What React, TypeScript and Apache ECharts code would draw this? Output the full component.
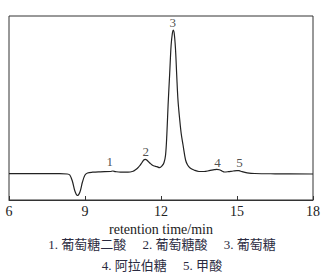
import React, { useEffect, useRef } from "react";
import * as echarts from "echarts";

const times = [
  6.0, 7.0, 8.0, 8.3, 8.4, 8.5, 8.6, 8.7, 8.8, 8.9, 9.0, 9.1, 9.3, 9.6, 10.0, 10.1, 10.2, 10.4, 10.7,
  10.9, 10.98, 11.08, 11.15, 11.25, 11.32, 11.38, 11.45, 11.57, 11.7, 11.84, 11.94, 12.05, 12.12,
  12.18, 12.23, 12.28, 12.34, 12.4, 12.45, 12.48, 12.52, 12.57, 12.62, 12.67, 12.74, 12.8, 12.87,
  12.97, 13.05, 13.15, 13.3, 13.5, 13.7, 13.9, 14.1, 14.2, 14.3, 14.42, 14.5, 14.65, 14.85, 15.0,
  15.08, 15.2, 15.4, 15.7, 16.5, 18.0,
];
const signal = [
  26.3, 26.3, 26.3, 26.0, 25.0, 19, 9, 4.5, 8, 18, 25, 27, 27.8, 28.2, 28.5, 29.0, 28.4, 27.8, 27.8,
  28.8, 30, 32, 34, 37.5, 40, 40.7, 39.8, 36.7, 34.2, 33.3, 32.4, 34.5, 37.5,
  45, 65, 95, 125, 155, 167, 170, 167, 152, 125, 100, 80, 66, 55,
  40, 35, 32, 30, 28.5, 28.5, 29.3, 30.3, 30.7, 30.3, 28.8, 28.0, 28.3, 29.0, 29.4,
  29.3, 28.3, 27.2, 26.5, 26.2, 26.0,
];

const peakNames = ["1", "2", "3", "4", "5"];
const peakTimes = [10.0, 11.42, 12.48, 14.25, 15.12];
const peakLabelY = [38, 48.5, 177, 37.3, 37.3];

const xTicks = { min: 6, max: 18, interval: 3 };
const axisName = "retention time/min";
const legendLine1 = "1. 葡萄糖二酸　 2. 葡萄糖酸　 3. 葡萄糖";
const legendLine2 = "4. 阿拉伯糖　 5. 甲酸";

export default function App() {
  const ref = useRef<HTMLDivElement>(null);
  useEffect(() => {
    if (!ref.current) return;
    const chart = echarts.init(ref.current, null, { renderer: "svg" });
    const serif = "'Liberation Serif', 'DejaVu Serif', serif";
    const cjk = "'Liberation Serif', 'Noto Sans CJK SC', serif";
    chart.setOption({
      animation: false,
      grid: {
        left: 9,
        right: 11,
        top: 16,
        bottom: 78,
        show: true,
        borderColor: "#333",
        borderWidth: 1,
      },
      xAxis: {
        type: "value",
        min: xTicks.min,
        max: xTicks.max,
        interval: xTicks.interval,
        name: axisName,
        nameLocation: "middle",
        nameGap: 13,
        nameTextStyle: { fontFamily: serif, fontSize: 14, color: "#222" },
        axisLine: { show: true, lineStyle: { color: "#333", width: 1 } },
        axisTick: { show: true, inside: true, length: 4, lineStyle: { color: "#333" } },
        axisLabel: { fontFamily: serif, fontSize: 14, color: "#222", margin: 4 },
        splitLine: { show: false },
      },
      yAxis: {
        type: "value",
        min: 0,
        max: 184,
        axisLine: { show: false },
        axisTick: { show: false },
        axisLabel: { show: false },
        splitLine: { show: false },
      },
      series: [
        {
          type: "line",
          data: times.map((t, i) => [t, signal[i]]),
          showSymbol: false,
          smooth: 0.35,
          lineStyle: { color: "#222", width: 1.2 },
        },
        {
          type: "scatter",
          symbolSize: 1,
          itemStyle: { color: "rgba(0,0,0,0)" },
          data: peakTimes.map((t, i) => ({ value: [t, peakLabelY[i]], name: peakNames[i] })),
          label: {
            show: true,
            position: [0, 0],
            align: "center",
            verticalAlign: "middle",
            formatter: (p: any) => p.name,
            fontFamily: serif,
            fontSize: 13,
            color: "#222222",
          },
        },
      ],
      graphic: [
        {
          type: "text",
          left: "center",
          top: 238,
          style: { text: legendLine1, font: `13px ${cjk}`, fill: "#2a2a40" },
        },
        {
          type: "text",
          left: "center",
          top: 259,
          style: { text: legendLine2, font: `13px ${cjk}`, fill: "#2a2a40" },
        },
      ],
    });
    return () => chart.dispose();
  }, []);
  return (
    <div
      ref={ref}
      style={{ position: "absolute", left: 0, top: 0, width: 324, height: 278 }}
    />
  );
}
